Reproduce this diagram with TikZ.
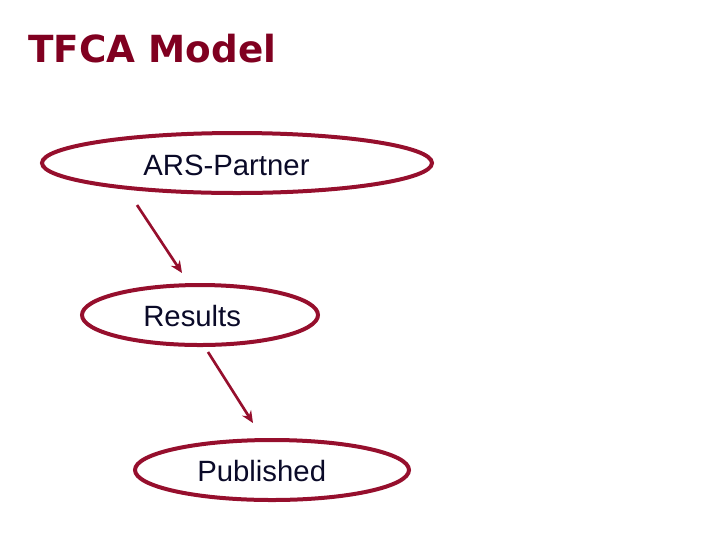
\documentclass[tikz,border=0pt]{standalone}
\usepackage{fontspec}
\usetikzlibrary{arrows.meta}
\setmainfont{Liberation Sans}
\newfontfamily\titlefont{DejaVu Sans}
\definecolor{dred}{RGB}{150,15,45}
\definecolor{tred}{RGB}{128,0,32}
\definecolor{navy}{RGB}{10,10,40}
\begin{document}
\begin{tikzpicture}[x=0.75pt,y=-0.75pt,
  lbl/.style={font=\fontsize{22}{26}\selectfont,text=navy,anchor=base west,inner sep=0pt},
  arr/.style={draw=dred,line width=2pt,-{Stealth[length=9pt,width=8pt]}}]
\useasboundingbox (0,0) rectangle (720,540);
\node[font=\titlefont\bfseries\fontsize{28}{32}\selectfont,text=tred,anchor=base west,inner sep=0pt] (title) at (28,62) {TFCA Model};
\draw[draw=dred,line width=3pt] (237,163) ellipse [x radius=195,y radius=30];
\draw[draw=dred,line width=3pt] (200,315) ellipse [x radius=118,y radius=30];
\draw[draw=dred,line width=3pt] (272,470) ellipse [x radius=137,y radius=30];
\node[lbl] (a) at (143,175) {ARS-Partner};
\node[lbl] (b) at (143,326) {Results};
\node[lbl] (c) at (197,481) {Published};
\coordinate (a1) at (137,205); \coordinate (a2) at (182,273);
\coordinate (b1) at (208,352); \coordinate (b2) at (253,423);
\draw[arr] (a1) -- (a2);
\draw[arr] (b1) -- (b2);
\end{tikzpicture}
\end{document}
